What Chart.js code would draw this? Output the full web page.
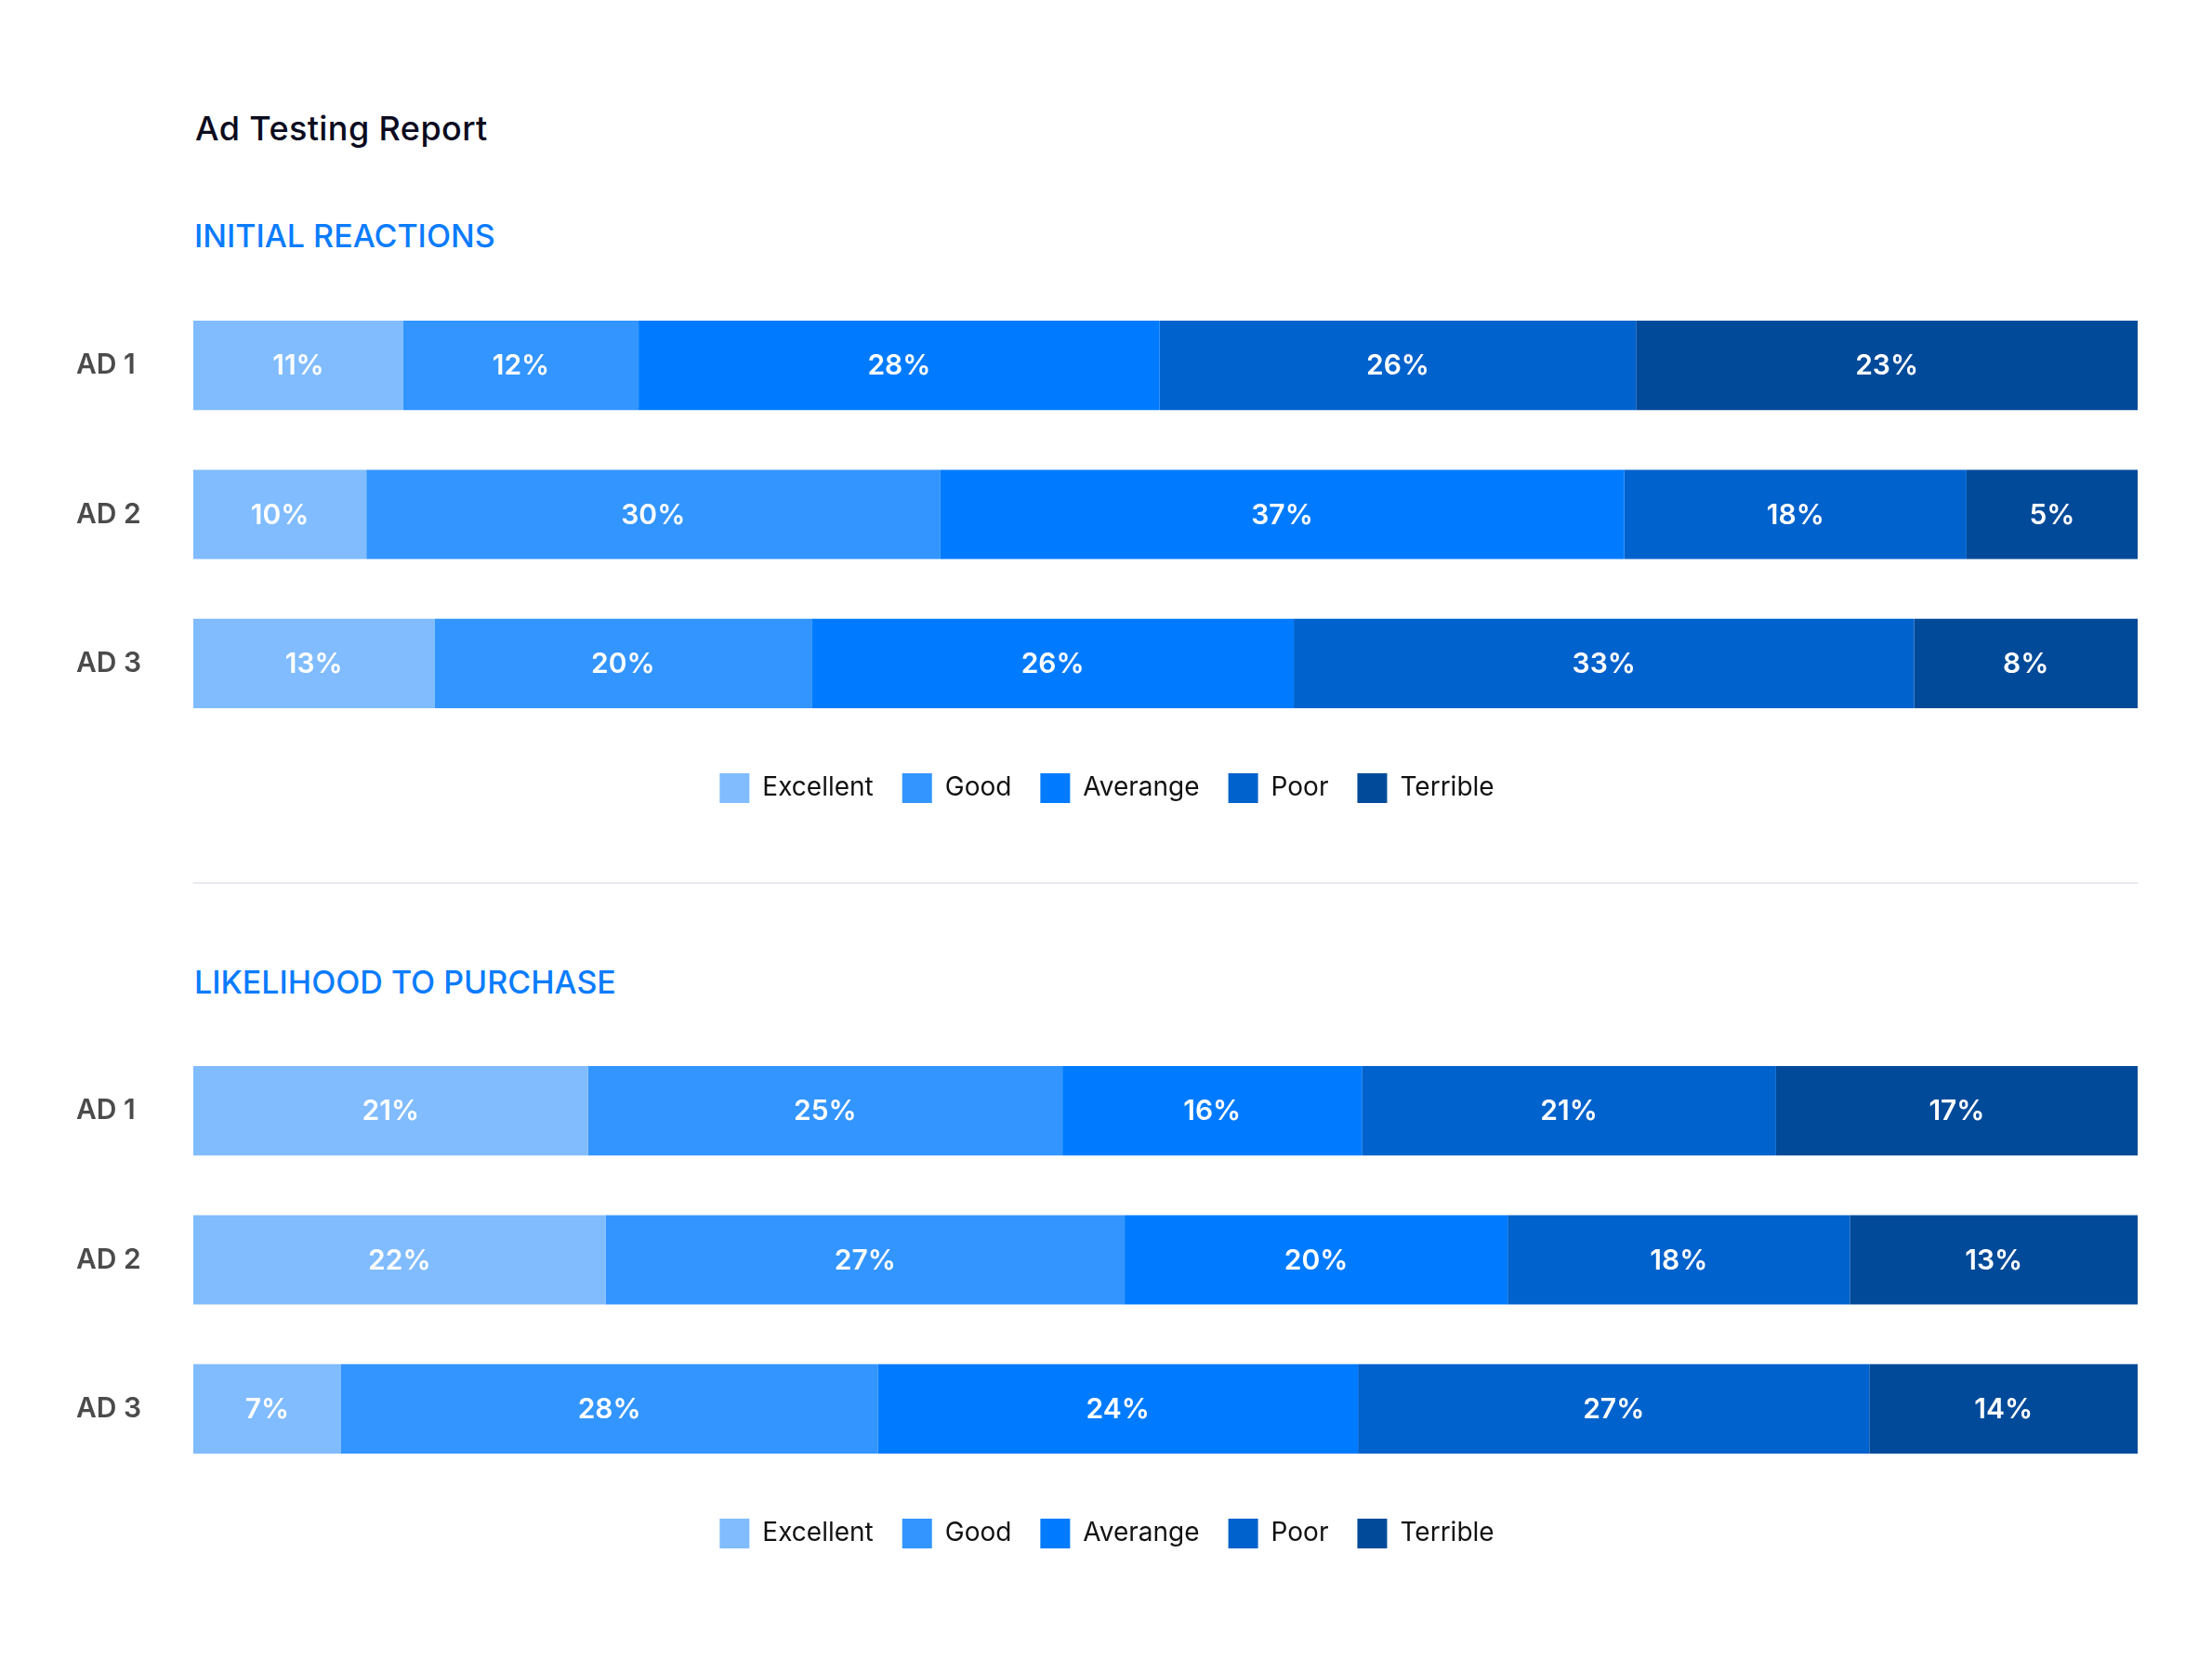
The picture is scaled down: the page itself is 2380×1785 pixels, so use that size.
<!DOCTYPE html>
<html>
<head>
<meta charset="utf-8">
<script src="https://cdn.jsdelivr.net/npm/chart.js@4.4.1/dist/chart.umd.min.js"></script>
<style>
  html, body { margin: 0; padding: 0; background: #ffffff; }
  body { width: 2380px; height: 1785px; position: relative; overflow: hidden; font-family: Inter, "Open Sans", sans-serif; }
  .txt { position: absolute; white-space: nowrap; line-height: 1; }
  #title { left: 210px; top: 120px; font-size: 36px; font-weight: 500; color: #0b0b1e; letter-spacing: 0.4px; }
  .section { left: 209px; font-size: 34px; font-weight: 500; color: #0a7cff; }
  #sec1 { top: 237px; }
  #sec2 { top: 1040px; }
  #sep { position: absolute; left: 208px; width: 2092px; top: 949px; height: 2px; background: #e9e9ef; }
  .wrap { position: absolute; left: 0; width: 2380px; height: 579px; }
  #w1 { top: 295px; }
  #w2 { top: 1097px; }
</style>
</head>
<body>
<div id="title" class="txt">Ad Testing Report</div>
<div id="sec1" class="txt section">INITIAL REACTIONS</div>
<div class="wrap" id="w1"><canvas id="c1" width="2380" height="579"></canvas></div>
<div id="sep"></div>
<div id="sec2" class="txt section">LIKELIHOOD TO PURCHASE</div>
<div class="wrap" id="w2"><canvas id="c2" width="2380" height="579"></canvas></div>
<script>
// ---- data ----
const categories = ['AD 1', 'AD 2', 'AD 3'];
const seriesNames = ['Excellent', 'Good', 'Averange', 'Poor', 'Terrible'];

// Initial reactions: bar lengths as drawn (share of the 0-100 bar)
const irExcellent = [10.8, 8.9, 12.4];
const irGood      = [12.1, 29.5, 19.4];
const irAverage   = [26.8, 35.2, 24.8];
const irPoor      = [24.5, 17.6, 31.9];
const irTerrible  = [25.8, 8.8, 11.5];
// Initial reactions: printed percentage labels
const irExcellentPct = [11, 10, 13];
const irGoodPct      = [12, 30, 20];
const irAveragePct   = [28, 37, 26];
const irPoorPct      = [26, 18, 33];
const irTerriblePct  = [23, 5, 8];

// Likelihood to purchase: bar lengths as drawn
const lpExcellent = [20.3, 21.2, 7.6];
const lpGood      = [24.4, 26.7, 27.6];
const lpAverage   = [15.4, 19.7, 24.7];
const lpPoor      = [21.3, 17.6, 26.3];
const lpTerrible  = [18.6, 14.8, 13.8];
// Likelihood to purchase: printed percentage labels
const lpExcellentPct = [21, 22, 7];
const lpGoodPct      = [25, 27, 28];
const lpAveragePct   = [16, 20, 24];
const lpPoorPct      = [21, 18, 27];
const lpTerriblePct  = [17, 13, 14];

const seriesColors = ['#80bcff', '#3395ff', '#007bff', '#0062cc', '#004a99'];

const FONT = 'Inter, "Open Sans", sans-serif';

const valueLabels = {
  id: 'valueLabels',
  afterDatasetsDraw(chart) {
    const ctx = chart.ctx;
    ctx.save();
    ctx.font = '600 30px ' + FONT;
    ctx.fillStyle = '#ffffff';
    ctx.textAlign = 'center';
    ctx.textBaseline = 'middle';
    chart.data.datasets.forEach((ds, i) => {
      const meta = chart.getDatasetMeta(i);
      meta.data.forEach((el, j) => {
        const p = el.getCenterPoint();
        ctx.fillText(ds.pct[j] + '%', p.x, p.y + 1);
      });
    });
    ctx.restore();
  }
};

function makeChart(id, series, pcts) {
  const datasets = series.map((vals, i) => ({
    label: seriesNames[i],
    data: vals,
    pct: pcts[i],
    backgroundColor: seriesColors[i],
    borderWidth: 0,
    barPercentage: 0.6,
    categoryPercentage: 1.0
  }));
  return new Chart(document.getElementById(id), {
    type: 'bar',
    data: { labels: categories, datasets },
    plugins: [valueLabels],
    options: {
      indexAxis: 'y',
      responsive: false,
      animation: false,
      devicePixelRatio: 1,
      layout: { padding: { left: 82, right: 80, top: 0, bottom: 0 } },
      scales: {
        x: {
          stacked: true, min: 0, max: 100,
          display: true,
          grid: { display: false, drawTicks: true, tickLength: 7 },
          border: { display: false },
          ticks: { display: false }
        },
        y: {
          stacked: true,
          grid: { display: false },
          border: { display: false },
          ticks: {
            crossAlign: 'far',
            padding: 0,
            color: '#4b4b4b',
            font: { family: FONT, size: 30, weight: '600' }
          },
          afterFit(scale) { scale.width = 126; }
        }
      },
      plugins: {
        tooltip: { enabled: false },
        legend: {
          position: 'bottom',
          labels: {
            boxWidth: 32,
            boxHeight: 32,
            padding: 31,
            color: '#111111',
            font: { family: FONT, size: 28, weight: '400' }
          }
        }
      }
    }
  });
}

makeChart('c1',
  [irExcellent, irGood, irAverage, irPoor, irTerrible],
  [irExcellentPct, irGoodPct, irAveragePct, irPoorPct, irTerriblePct]);
makeChart('c2',
  [lpExcellent, lpGood, lpAverage, lpPoor, lpTerrible],
  [lpExcellentPct, lpGoodPct, lpAveragePct, lpPoorPct, lpTerriblePct]);
</script>
</body>
</html>
